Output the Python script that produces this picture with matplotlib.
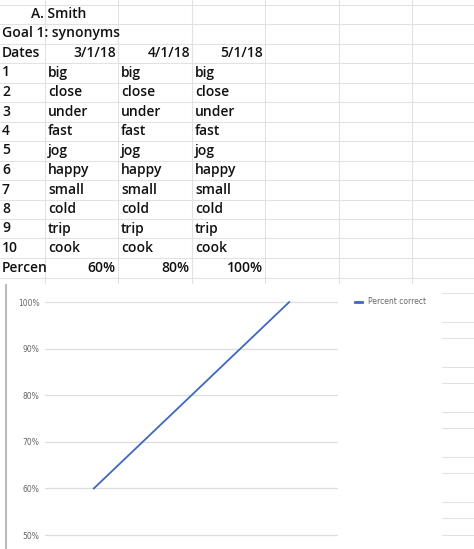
import matplotlib
matplotlib.use("Agg")
import matplotlib.pyplot as plt
from matplotlib.lines import Line2D

dates = ["3/1/18", "4/1/18", "5/1/18"]
words = ["big", "close", "under", "fast", "jog", "happy", "small", "cold", "trip", "cook"]
percent_labels = ["60%", "80%", "100%"]
percent_values = [60, 80, 100]
series_name = "Percent correct"
yticks = [50, 60, 70, 80, 90, 100]

W, H = 474, 549
fig = plt.figure(figsize=(W/100, H/100), dpi=100)
fig.patch.set_facecolor("white")

def fx(x): return x / W
def fy(y): return 1 - y / H

grid = "#e2e2e2"
cols = [45, 118, 192, 265, 339, 412]
for c in cols:
    fig.add_artist(Line2D([fx(c), fx(c)], [fy(0), fy(283)], color=grid, lw=0.8))
for k in range(15):
    y = 4.5 + 19.5 * k
    fig.add_artist(Line2D([0, 1], [fy(y), fy(y)], color=grid, lw=0.8))

fs = 10
def row_y(i): return fy(14 + 19.5 * i)
tk = dict(fontsize=fs, color="#111111", va="center", family=["Open Sans", "DejaVu Sans"], weight="semibold")
fig.text(fx(31), row_y(0), "A. Smith", **tk)
fig.text(fx(2), row_y(1), "Goal 1: synonyms", **tk)
fig.text(fx(2), row_y(2), "Dates", **tk)
for j, d in enumerate(dates):
    fig.text(fx(cols[j + 1] - 2), row_y(2), d, ha="right", **tk)
for i, w in enumerate(words):
    fig.text(fx(2), row_y(3 + i), str(i + 1), **tk)
    for j in range(3):
        fig.text(fx(cols[j] + 3), row_y(3 + i), w, **tk)
fig.text(fx(2), row_y(13), "Percen", **tk)
for j, p in enumerate(percent_labels):
    fig.text(fx(cols[j + 1] - 2), row_y(13), p, ha="right", **tk)

# chart
fig.add_artist(Line2D([fx(6), fx(6)], [fy(285), fy(549)], color="#bbbbbb", lw=1.5))
for y in [293, 322, 338, 367, 383, 412, 428, 457, 473, 502, 518, 535]:
    fig.add_artist(Line2D([fx(442), fx(474)], [fy(y), fy(y)], color=grid, lw=0.8))

ax = fig.add_axes([fx(45), fy(549), fx(338) - fx(45), fy(290) - fy(549)])
ax.set_xlim(-0.5, 2.5)
ax.set_ylim(47.0, 102.6)
for t in yticks:
    ax.axhline(t, color="#dddddd", lw=0.9, zorder=0)
ax.plot(range(len(percent_values)), percent_values, color="#3d68c1", lw=1.3, label=series_name)
ax.set_yticks(yticks)
ax.set_yticklabels([f"{t}%" for t in yticks], fontsize=5.5, color="#666666")
ax.tick_params(axis="y", length=0, pad=4)
ax.set_xticks([])
for s in ax.spines.values():
    s.set_visible(False)
ax.patch.set_alpha(0)

fig.add_artist(Line2D([fx(355), fx(362)], [fy(302), fy(302)], color="#3d68c1", lw=2))
fig.text(fx(368), fy(302), series_name, fontsize=5.5, color="#666666", va="center")

fig.savefig("out.png", dpi=100)
